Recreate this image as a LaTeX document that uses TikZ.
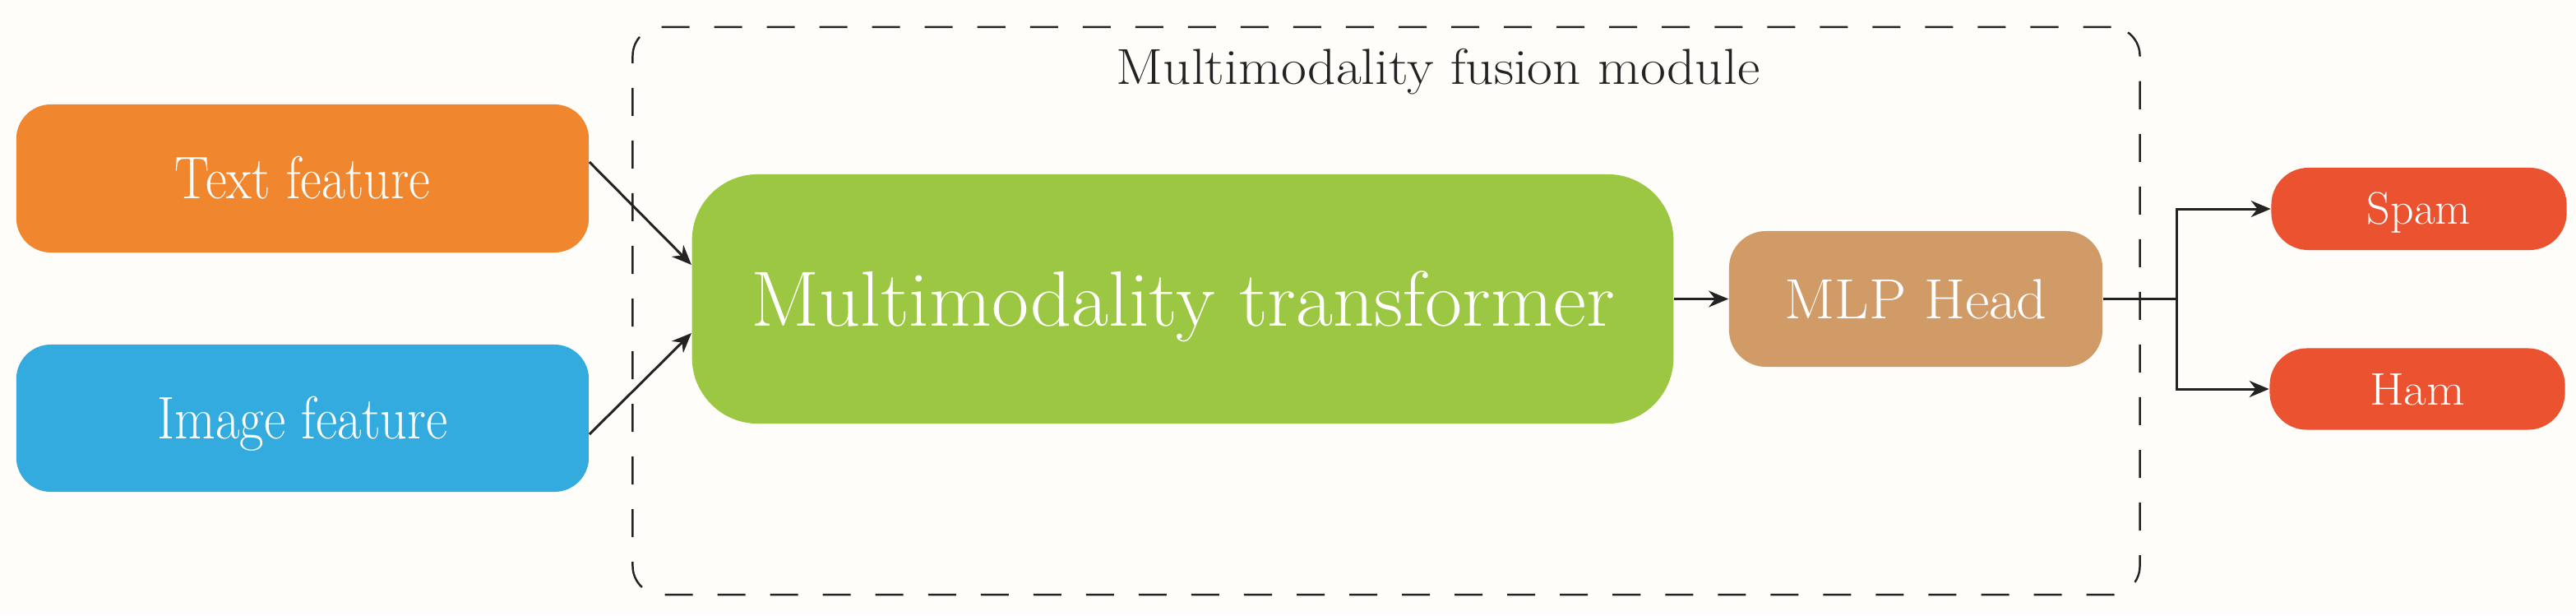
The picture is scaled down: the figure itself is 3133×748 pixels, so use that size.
\documentclass[tikz,border=0pt]{standalone}
\usetikzlibrary{arrows.meta}
\definecolor{bgc}{RGB}{254,253,250}
\definecolor{orangec}{RGB}{240,134,46}
\definecolor{bluec}{RGB}{52,171,223}
\definecolor{greenc}{RGB}{155,199,67}
\definecolor{tanc}{RGB}{209,155,104}
\definecolor{redc}{RGB}{234,82,48}
\definecolor{linec}{RGB}{35,35,35}
\newcommand{\fitlbl}[3]{\resizebox{#1}{\height}{\fontsize{#2}{#2}\selectfont #3}}
\begin{document}
\begin{tikzpicture}[x=0.01cm,y=-0.01cm,
  box/.style={rectangle, inner sep=0pt, text=white, text depth=0pt},
  conn/.style={draw=linec, line width=0.85pt, -{Stealth[length=0.24cm,width=0.2cm]}},
  plain/.style={draw=linec, line width=0.85pt},
  fusionbox/.style={rectangle, draw=linec, line width=0.7pt, dash pattern=on 0.34cm off 0.3cm, rounded corners=0.35cm, inner sep=0pt}]
\fill[bgc] (0,0) rectangle (3133,748);
\useasboundingbox (0,0) rectangle (3133,748);

\node[fusionbox, minimum width=18.32cm, minimum height=6.90cm] (fusion) at (1686,378) {};
\node[inner sep=0pt, text=linec, text height=11.95pt, text depth=0pt] (title) at (1749,81) {\fitlbl{7.82cm}{17.5pt}{Multimodality fusion module}};

\node[box, fill=orangec, rounded corners=0.42cm, minimum width=6.96cm, minimum height=1.80cm, text height=14.2pt] (txt) at (368,217) {\fitlbl{3.10cm}{20.8pt}{Text feature}};
\node[box, fill=bluec, rounded corners=0.42cm, minimum width=6.96cm, minimum height=1.79cm, text height=14.2pt] (img) at (368,508.5) {\fitlbl{3.53cm}{20.8pt}{Image feature}};
\node[box, fill=greenc, rounded corners=0.8cm, minimum width=11.93cm, minimum height=3.03cm, text height=18.5pt] (trans) at (1438.5,363.5) {\fitlbl{10.5cm}{27.1pt}{Multimodality transformer}};
\node[box, fill=tanc, rounded corners=0.45cm, minimum width=4.54cm, minimum height=1.65cm, text height=13.37pt] (mlp) at (2330,363.5) {\fitlbl{3.19cm}{19.6pt}{MLP Head}};
\node[box, fill=redc, rounded corners=0.45cm, minimum width=3.59cm, minimum height=1.00cm, text height=10.8pt] (spam) at (2942,254) {\fitlbl{1.26cm}{15.8pt}{Spam}};
\node[box, fill=redc, rounded corners=0.45cm, minimum width=3.59cm, minimum height=0.99cm, text height=10.8pt] (ham) at (2940,473) {\fitlbl{1.16cm}{15.8pt}{Ham}};

\draw[conn] ([yshift=0.2cm]txt.east) -- ([yshift=0.415cm]trans.west);
\draw[conn] ([yshift=-0.195cm]img.east) -- ([yshift=-0.415cm]trans.west);
\draw[conn] (trans.east) -- (mlp.west);
\coordinate (split) at (2647,363.5);
\draw[plain] (mlp.east) -- (split);
\draw[conn] (split) |- (spam.west);
\draw[conn] (split) |- (ham.west);
\end{tikzpicture}
\end{document}
